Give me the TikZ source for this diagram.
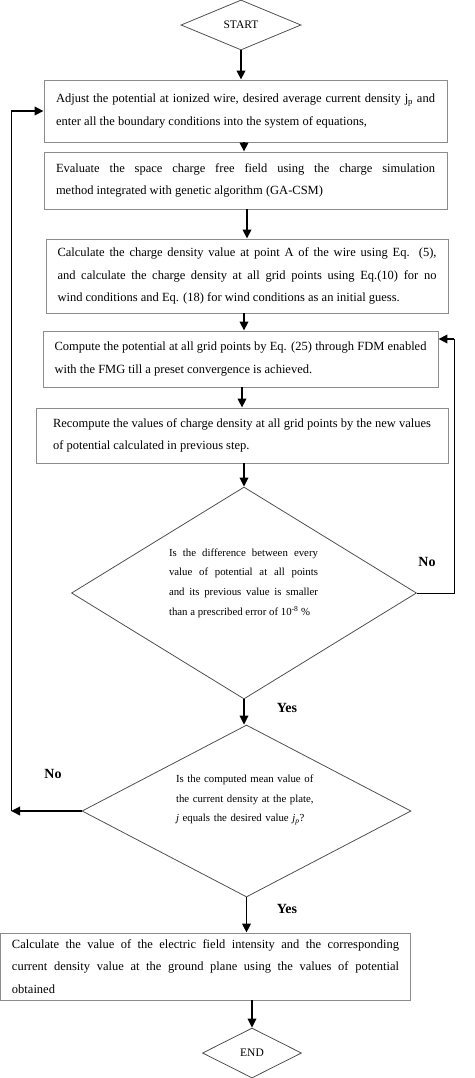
\documentclass[tikz,border=0pt]{standalone}
\usepackage{fontspec}
\setmainfont{Liberation Serif}
\usetikzlibrary{arrows.meta,positioning,shapes.geometric}
\definecolor{bframe}{HTML}{8C8C8C}
\definecolor{dframe}{HTML}{505050}

\begin{document}
\begin{tikzpicture}[x=1pt,y=-1pt,
  every node/.style={font=\fontsize{12.5}{22.5}\selectfont},
  bx/.style={draw=bframe,line width=0.9pt,inner sep=0pt,align=justify},
  dec/.style={diamond,draw=dframe,line width=0.8pt,inner sep=0pt},
  qtext/.style={inner sep=0pt,font=\fontsize{10.8}{19.7}\selectfont},
  ans/.style={font=\fontsize{14}{16}\selectfont\bfseries},
  arrow/.style={-{Triangle[length=9pt,width=8.5pt]},line width=1.8pt},
  lp/.style={line width=1pt}
]
\useasboundingbox (0,0) rectangle (474,1078);
\node[dec,minimum width=120pt,minimum height=50pt,font=\fontsize{11.5}{12}\selectfont] (start) at (241,25) {START};
\node[bx,minimum width=403pt,minimum height=62pt,text width=379pt] (adjust) at (245.5,111)
  {Adjust the potential at ionized wire, desired average current density j\textsubscript{p} and\linebreak enter all the boundary conditions into the system of equations,};
\node[bx,minimum width=403pt,minimum height=57pt,text width=379pt] (evalf) at (245.5,180.5)
  {Evaluate the space charge free field using the charge simulation\linebreak method integrated with genetic algorithm (GA-CSM)};
\node[bx,minimum width=402pt,minimum height=74pt,text width=379pt] (charge) at (247,276)
  {Calculate the charge density value at point A of the wire using Eq. (5),\linebreak and calculate the charge density at all grid points using Eq.(10) for no\linebreak wind conditions and Eq. (18) for wind conditions as an initial guess.};
\node[bx,minimum width=395pt,minimum height=56pt,text width=372pt] (compute) at (240.5,359)
  {Compute the potential at all grid points by Eq. (25) through FDM enabled\linebreak with the FMG till a preset convergence is achieved.};
\node[bx,minimum width=412pt,minimum height=55pt,text width=378pt] (recomp) at (242,435.5)
  {Recompute the values of charge density at all grid points by the new values\linebreak of potential calculated in previous step.};
\node[dec,minimum width=345pt,minimum height=212pt] (conv) at (244,593) {};
\node[qtext,text width=149pt,align=justify] (q1) at (243.5,583)
  {Is the difference between every\linebreak value of potential at all points\linebreak and its previous value is smaller\linebreak than a prescribed error of 10\textsuperscript{-8} \%};
\node[dec,minimum width=329pt,minimum height=172pt] (meanj) at (246.5,811) {};
\node[qtext,text width=142pt,align=left] (q2) at (247,800)
  {Is the computed mean value of\\the current density at the plate,\\\textit{j} equals the desired value \textit{j\textsubscript{p}}?};
\node[bx,minimum width=410pt,minimum height=67pt,text width=387pt] (efield) at (205.5,966.5)
  {Calculate the value of the electric field intensity and the corresponding\linebreak current density value at the ground plane using the values of potential\linebreak obtained};
\node[dec,minimum width=99pt,minimum height=50pt,font=\fontsize{11.5}{12}\selectfont] (finish) at (252,1053) {END};
% labels
\node[ans] (no1) at (427,562) {No};
\node[ans] (yes1) at (287,708) {Yes};
\node[ans] (no2) at (53,774) {No};
\node[ans] (yes2) at (287,909) {Yes};
% main flow
\draw[arrow] (start.south) -- (start.south |- adjust.north);
\draw[arrow] (adjust.south -| conv) -- (evalf.north -| conv);
\draw[arrow] (evalf.south -| charge) -- (charge.north -| charge);
\draw[arrow] (charge.south -| conv) -- (compute.north -| conv);
\draw[arrow] (compute.south -| recomp) -- (recomp.north -| recomp);
\draw[arrow] (recomp.south -| conv) -- (conv.north);
\draw[arrow] (conv.south) -- (conv.south |- meanj.north);
\draw[arrow] (meanj.south) -- (meanj.south |- efield.north);
\draw[arrow] (efield.south -| finish) -- (finish.north);
% loops
\coordinate (rc) at (454,339);
\draw[lp] (conv.east) -| (rc);
\draw[arrow] (rc) -- (compute.east |- rc);
\coordinate (lc) at (11,811);
\draw[arrow] (meanj.west) -- (lc);
\draw[lp] (lc) -- (lc |- adjust.west);
\draw[arrow] (lc |- adjust.west) -- (adjust.west);
\end{tikzpicture}
\end{document}
